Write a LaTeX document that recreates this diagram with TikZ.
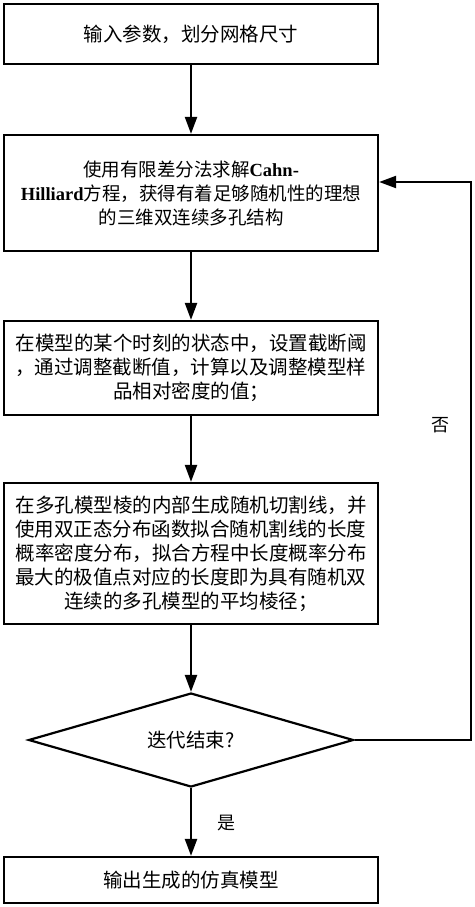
\documentclass[tikz,border=0pt]{standalone}
\usepackage{fontspec}
\setmainfont{Liberation Serif}
\newfontfamily\cjk{Noto Sans CJK SC}
\usetikzlibrary{shapes.geometric,arrows.meta}

\def\ux{1pt}
\def\uy{-1pt}
\newcommand{\latin}[1]{{\rmfamily\bfseries #1}}

\begin{document}
\begin{tikzpicture}[x=\ux,y=\uy,line width=2.2pt,font=\cjk\fontsize{19.5}{24}\selectfont]
		\tikzset{
			stepbox/.style={draw, rectangle, minimum width=374pt, minimum height=#1,
				inner sep=0pt, text width=370pt, align=center},
			decision/.style={draw, diamond, minimum width=325pt, minimum height=94pt,
				inner sep=0pt, aspect=3.4},
			flow/.style={-{Triangle[length=17pt,width=12pt]}},
			answer/.style={font=\cjk\fontsize{18}{20}\selectfont},
		}
		\useasboundingbox (0,0) rectangle (474,907);

		\node[stepbox=60pt] (input) at (191,34) {输入参数，划分网格尺寸};
		\node[stepbox=116pt, font=\cjk\fontsize{18.5}{24}\selectfont] (solve) at (191,193)
		{使用有限差分法求解\latin{Cahn-}\\
		 \latin{Hilliard}方程，获得有着足够随机性的理想\\
		 的三维双连续多孔结构};
		\node[stepbox=94pt] (cut) at (191,368)
		{在模型的某个时刻的状态中，设置截断阈\\
		 ，通过调整截断值，计算以及调整模型样\\
		 品相对密度的值；};
		\node[stepbox=141pt] (fit) at (191,553.5)
		{在多孔模型棱的内部生成随机切割线，并\\
		 使用双正态分布函数拟合随机割线的长度\\
		 概率密度分布，拟合方程中长度概率分布\\
		 最大的极值点对应的长度即为具有随机双\\
		 连续的多孔模型的平均棱径；};
		\node[decision] (done) at (191,740) {迭代结束?};
		\node[stepbox=46pt] (output) at (191,880) {输出生成的仿真模型};

		\draw[flow] (input) -- (solve);
		\draw[flow] (solve) -- (cut);
		\draw[flow] (cut) -- (fit);
		\draw[flow] (fit) -- (done);
		\draw[flow] (done) -- (output);

		% loop back
		\coordinate (back) at (471,182);
		\draw[flow] (done.east) -| (back) -- (solve.east |- back);

		\node[answer] (no) at (440,425) {否};
		\node[answer] (yes) at (226,823) {是};

\end{tikzpicture}
\end{document}
